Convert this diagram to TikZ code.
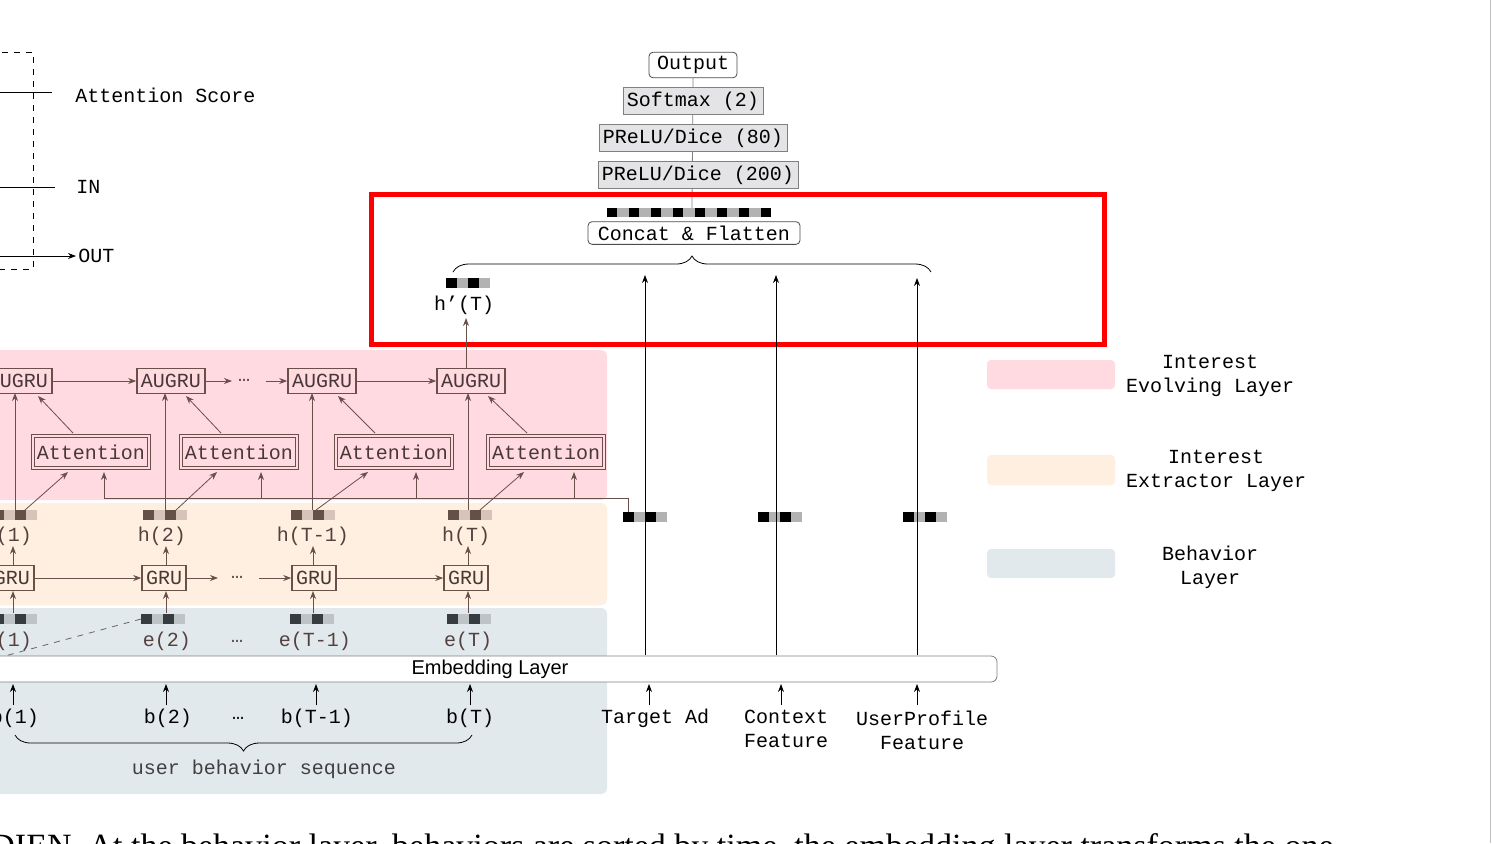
\documentclass[tikz,border=0pt]{standalone}
\usepackage{fontspec}
\setmainfont{Liberation Mono}
\newfontfamily\sansf{Liberation Sans}
\newfontfamily\seriff{Liberation Serif}
\usetikzlibrary{decorations.pathreplacing,arrows.meta}
\definecolor{pinkL}{RGB}{255,218,224}
\definecolor{orgL}{RGB}{254,239,225}
\definecolor{bluL}{RGB}{225,233,237}
\definecolor{brn}{RGB}{105,80,75}
\definecolor{hD}{RGB}{100,80,70}
\definecolor{hL}{RGB}{215,195,185}
\definecolor{eD}{RGB}{55,60,65}
\definecolor{eL}{RGB}{190,195,198}
\definecolor{gbox}{RGB}{228,228,230}
\tikzset{
 x=0.5pt,y=-0.5pt,
 every node/.style={font=\fontsize{10}{12}\selectfont,inner sep=1pt},
 cell/.style={draw=brn,thick,fill=none,minimum height=12.5pt,inner sep=2pt,text=brn!70!black},
 att/.style={draw=brn,double=pinkL,double distance=1pt,minimum height=16pt,inner sep=2pt,text=brn!70!black},
 bar/.style={draw=brn,-{Stealth[length=4pt,width=3pt]}},
 barb/.style={draw=black,-{Stealth[length=4pt,width=3pt]}},
 mlp/.style={draw=gray,fill=gbox,minimum height=10pt,inner sep=2pt},
 rbox/.style={draw=black!70,rounded corners=2pt,minimum height=10pt,inner sep=2pt},
 lab/.style={text=brn!80!black},
}
\newcommand{\vecH}[3]{% x y name
 \fill[hD] (#1-22,#2-5) rectangle (#1-11,#2+5);
 \fill[hL] (#1-11,#2-5) rectangle (#1,#2+5);
 \fill[hD] (#1,#2-5) rectangle (#1+11,#2+5);
 \fill[hL] (#1+11,#2-5) rectangle (#1+22,#2+5);
 \coordinate (#3) at (#1,#2);}
\newcommand{\vecE}[3]{%
 \fill[eD] (#1-22,#2-5) rectangle (#1-11,#2+5);
 \fill[eL] (#1-11,#2-5) rectangle (#1,#2+5);
 \fill[eD] (#1,#2-5) rectangle (#1+11,#2+5);
 \fill[eL] (#1+11,#2-5) rectangle (#1+22,#2+5);
 \coordinate (#3) at (#1,#2);}
\newcommand{\vecK}[3]{%
 \fill[black] (#1-22,#2-5) rectangle (#1-11,#2+5);
 \fill[black!30] (#1-11,#2-5) rectangle (#1,#2+5);
 \fill[black] (#1,#2-5) rectangle (#1+11,#2+5);
 \fill[black!30] (#1+11,#2-5) rectangle (#1+22,#2+5);
 \coordinate (#3) at (#1,#2);}
\begin{document}
\begin{tikzpicture}
\useasboundingbox (0,0) rectangle (1492,843);
\fill[white] (0,0) rectangle (1492,843);
% layer backgrounds
\fill[pinkL,rounded corners=3pt] (-10,350) rectangle (607,500);
\fill[orgL,rounded corners=3pt] (-10,503) rectangle (607,605);
\fill[bluL,rounded corners=3pt] (-10,608) rectangle (607,794);
\draw[black!25] (1490,0) -- (1490,843);
% legend top-left
\draw[dashed] (-10,52) -- (33,52) -- (33,269) -- (-10,269);
\node[anchor=west] (ascore) at (73,95) {Attention Score};
\node[anchor=west] (inl) at (74,187) {IN};
\node[anchor=west] (outl) at (76,256) {OUT};
\coordinate (a0) at (-10,92); \coordinate (i0) at (-10,187); \coordinate (o0) at (-10,256);
\draw (a0) -- (52,92);
\draw (i0) -- (55,187);
\draw[barb] (o0) -- (outl.west);
% MLP stack
\node[rbox,minimum width=44pt] (out) at (693,65) {Output};
\coordinate (ctop) at (692,208);
\draw[black!50] (ctop) -- (out.south);
\node[mlp] (soft) at (693,101) {Softmax (2)};
\node[mlp] (p80) at (693,138) {PReLU/Dice (80)};
\node[mlp] (p200) at (698,175) {PReLU/Dice (200)};
\fill[black!30] (607,208) rectangle (771,217);
\foreach \i in {0,...,7}{\fill[black] (607+\i*22,208) rectangle (617+\i*22,217);}
\node[rbox,minimum width=106pt] (concat) at (694,233) {Concat \& Flatten};
\draw[decorate,decoration={brace,amplitude=8pt}] (453,272) -- (931,272);
% h'(T)
\vecK{468}{283}{hp}
\node (hpl) at (464,305) {h’(T)};
% red rectangle
\draw[red,line width=2.5pt] (371,194) rectangle (1104,344);
% AUGRU row
\node[cell] (ag1) at (18,381) {AUGRU};
\node[cell] (ag2) at (171,381) {AUGRU};
\node[cell] (ag3) at (322,381) {AUGRU};
\node[cell] (ag4) at (471,381) {AUGRU};
\draw[bar] (ag1) -- (ag2);
\coordinate (d1a) at (232,381); \coordinate (d1b) at (266,381);
\node[lab] (dots1) at (244,380) {…};
\draw[bar] (ag2) -- (d1a);
\draw[bar] (d1b) -- (ag3);
\draw[bar] (ag3) -- (ag4);
\coordinate (agt) at (466,368);
\coordinate (hpt) at (466,318);
\draw[bar] (agt) -- (hpt);
% Attention
\node[att] (at1) at (91,452) {Attention};
\node[att] (at2) at (239,452) {Attention};
\node[att] (at3) at (394,452) {Attention};
\node[att] (at4) at (546,452) {Attention};
\draw[bar] (73,433) -- (38,396);
\draw[bar] (221,433) -- (186,396);
\draw[bar] (375,433) -- (338,396);
\draw[bar] (527,433) -- (488,396);
% h vectors
\vecH{15}{515}{h1}\vecH{165}{515}{h2}\vecH{313}{515}{h3}\vecH{470}{515}{h4}
\draw[bar] (15,510) -- (15,393);
\draw[bar] (165,510) -- (165,393);
\draw[bar] (312,510) -- (312,393);
\draw[bar] (468,510) -- (468,393);
\draw[bar] (25,510) -- (68,472);
\draw[bar] (176,510) -- (217,472);
\draw[bar] (316,510) -- (368,472);
\draw[bar] (480,510) -- (524,472);
% target line
\coordinate (tl) at (628,516);
\draw[brn] (104,498) -- (628,498) -- (tl);
\foreach \x in {104,261,416,574}{\draw[bar] (\x,498) -- (\x,472);}
\node[lab] at (8,536) {h(1)};
\node[lab] (hl2) at (162,536) {h(2)};
\node[lab] (hl3) at (313,536) {h(T-1)};
\node[lab] (hl4) at (466,536) {h(T)};
% GRU row
\node[cell] (g1) at (12,578) {GRU};
\node[cell] (g2) at (164,578) {GRU};
\node[cell] (g3) at (314,578) {GRU};
\node[cell] (g4) at (466,578) {GRU};
\draw[bar] (g1) -- (g2);
\coordinate (d2a) at (218,578); \coordinate (d2b) at (259,578);
\node[lab] at (237,577) {…};
\draw[bar] (g2) -- (d2a);
\draw[bar] (d2b) -- (g3);
\draw[bar] (g3) -- (g4);
\foreach \x in {13,166,313,468}{\draw[bar] (\x,565) -- (\x,546);}
% e vectors
\vecE{15}{619}{e1}\vecE{163}{619}{e2}\vecE{312}{619}{e3}\vecE{469}{619}{e4}
\foreach \x in {13,166,313,468}{\draw[bar] (\x,613) -- (\x,591);}
\draw[dashed,black!60] (141,619) -- (-10,660);
\node[lab] at (8,641) {e(1)};
\node[lab] at (167,641) {e(2)};
\node[lab] at (237,641) {…};
\node[lab] at (315,641) {e(T-1)};
\node[lab] at (468,641) {e(T)};
% embedding
\draw[black!50,fill=white,rounded corners=3pt] (-10,656) rectangle (997,682);
\node[font=\sansf\fontsize{10}{12}\selectfont] (emb) at (490,669) {Embedding Layer};
% b labels
\node (b1) at (15,718) {b(1)};
\node (b2) at (168,718) {b(2)};
\node at (238,718) {…};
\node (b3) at (317,718) {b(T-1)};
\node (b4) at (470,718) {b(T)};
\foreach \x in {13,166,316,470}{\draw[barb] (\x,705) -- (\x,684);}
\draw[decorate,decoration={brace,amplitude=8pt,mirror}] (15,735) -- (472,735);
\node[lab,text=black!75] at (264,769) {user behavior sequence};
% other features
\node (ta) at (655,718) {Target Ad};
\node[align=center] (cf) at (786,729) {Context\\Feature};
\node[align=center] (up) at (922,730) {UserProfile\\Feature};
\foreach \x in {649,781,917}{\draw[barb] (\x,705) -- (\x,684);}
\vecK{645}{517}{v1}\vecK{780}{517}{v2}\vecK{925}{517}{v3}
\draw[barb] (645,655) -- (645,275);
\draw[barb] (776,655) -- (776,275);
\draw[barb] (917,655) -- (917,278);
% legend right
\fill[pinkL,rounded corners=2pt] (987,360) rectangle (1115,389);
\fill[orgL,rounded corners=2pt] (987,455) rectangle (1115,485);
\fill[bluL,rounded corners=2pt] (987,549) rectangle (1115,578);
\node[align=center] at (1210,376) {Interest\\Evolving Layer};
\node[align=center] at (1216,471) {Interest\\Extractor Layer};
\node[align=center] at (1210,567) {Behavior\\Layer};
% cut caption
\node[anchor=west,font=\seriff\fontsize{17}{18}\selectfont] at (-12,849) {DIEN. At the behavior layer, behaviors are sorted by time, the embedding layer transforms the one};
\end{tikzpicture}
\end{document}
